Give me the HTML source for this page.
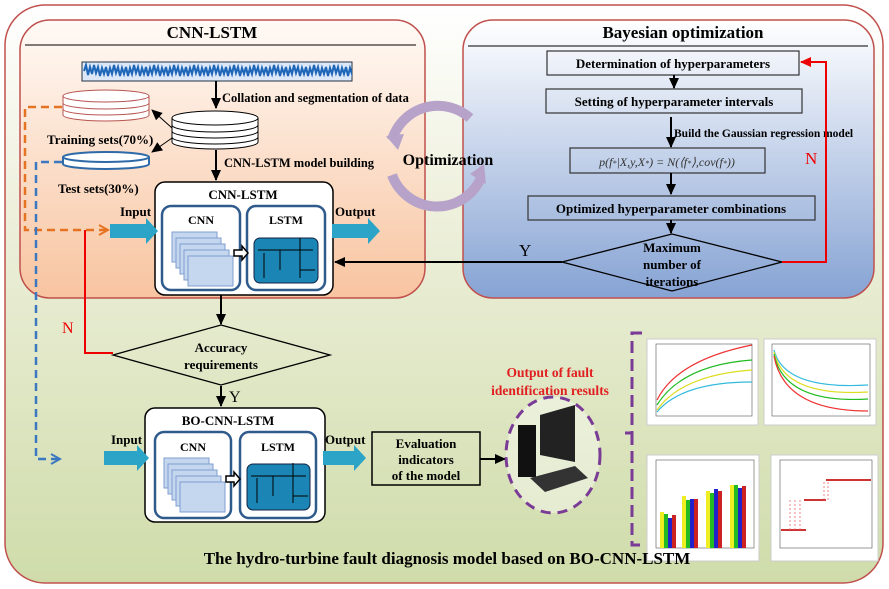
<!DOCTYPE html>
<html><head><meta charset="utf-8"><style>
html,body{margin:0;padding:0;background:#fff}
svg{display:block;font-family:"Liberation Serif",serif;font-weight:bold}
</style></head><body>
<svg width="889" height="589" viewBox="0 0 889 589">
<defs>
<clipPath id="sc"><rect x="82" y="62" width="270" height="19"/></clipPath>
<linearGradient id="go" x1="0" y1="0" x2="0" y2="1"><stop offset="0" stop-color="#fff"/><stop offset="0.35" stop-color="#eef0dc"/><stop offset="1" stop-color="#cfdcaa"/></linearGradient>
<linearGradient id="gl" x1="0" y1="0" x2="0" y2="1"><stop offset="0" stop-color="#fffaf6"/><stop offset="1" stop-color="#f8c4a0"/></linearGradient>
<linearGradient id="gr" x1="0" y1="0" x2="0" y2="1"><stop offset="0" stop-color="#ffffff"/><stop offset="1" stop-color="#86a3d4"/></linearGradient>
<marker id="ab" markerUnits="userSpaceOnUse" markerWidth="12" markerHeight="12" refX="10" refY="6" orient="auto"><path d="M0,1L11,6L0,11z" fill="#000"/></marker>
<marker id="ar" markerUnits="userSpaceOnUse" markerWidth="12" markerHeight="12" refX="10" refY="6" orient="auto"><path d="M0,1L11,6L0,11z" fill="#e00"/></marker>
<marker id="ao" markerUnits="userSpaceOnUse" markerWidth="12" markerHeight="12" refX="10" refY="6" orient="auto"><path d="M1,1L10,6L1,11" fill="none" stroke="#e67322" stroke-width="2"/></marker>
<marker id="abl" markerUnits="userSpaceOnUse" markerWidth="12" markerHeight="12" refX="10" refY="6" orient="auto"><path d="M1,1L10,6L1,11" fill="none" stroke="#3b78c0" stroke-width="2"/></marker>
</defs>
<rect x="5" y="5" width="878" height="578" rx="40" fill="url(#go)" stroke="#c0504d" stroke-width="1.5"/>
<rect x="20" y="20" width="405" height="278" rx="30" fill="url(#gl)" stroke="#c0504d" stroke-width="1.5"/>
<rect x="463" y="20" width="411" height="278" rx="30" fill="url(#gr)" stroke="#c0504d" stroke-width="1.5"/>
<text x="212" y="38" font-size="17" text-anchor="middle">CNN-LSTM</text>
<line x1="25" y1="45" x2="416" y2="45" stroke="#000"/>
<text x="683" y="38" font-size="17" text-anchor="middle">Bayesian optimization</text>
<line x1="468" y1="46" x2="868" y2="46" stroke="#000"/>
<rect x="82" y="62" width="270" height="19" fill="#dce8f7" stroke="#234"/>
<g clip-path="url(#sc)">
<path d="M84,71 l2,-6 2,10 2,-8 2,7 2,-9 2,8 2,-6 2,9 2,-8 2,6 2,-7 2,9 2,-8 2,6 2,-9 2,8 2,-6 2,9 2,-8 2,6 2,-7 2,9 2,-8 2,6 2,-9 2,8 2,-6 2,9 2,-8 2,6 2,-7 2,9 2,-8 2,6 2,-9 2,8 2,-6 2,9 2,-8 2,6 2,-7 2,9 2,-8 2,6 2,-9 2,8 2,-6 2,9 2,-8 2,6 2,-7 2,9 2,-8 2,6 2,-9 2,8 2,-6 2,9 2,-8 2,6 2,-7 2,9 2,-8 2,6 2,-9 2,8 2,-6 2,9 2,-8 2,6 2,-7 2,9 2,-8 2,6 2,-9 2,8 2,-6 2,9 2,-8 2,6 2,-7 2,9 2,-8 2,6 2,-9 2,8 2,-6 2,9 2,-8 2,6 2,-7 2,9 2,-8 2,6 2,-9 2,8 2,-6 2,9 2,-8 2,6 2,-7 2,9 2,-8 2,6 2,-9 2,8 2,-6 2,9 2,-8 2,6 2,-7 2,9 2,-8 2,6 2,-9 2,8 2,-6 2,9 2,-8 2,6 2,-7 2,9 2,-8 2,6 2,-9 2,8 2,-6 2,9 2,-8 2,6 2,-7 2,9 2,-8 2,6 2,-9 2,8 2,-6 2,9 2,-8 2,6 2,-7 2,9 2,-8 2,6 2,-9 2,8 2,-6 2,9 2,-8 2,6 2,-7 2,9" fill="none" stroke="#1e66b8" stroke-width="2"/>
</g>
<line x1="216" y1="81" x2="216" y2="108" stroke="#000" stroke-width="2" marker-end="url(#ab)"/>
<text x="222" y="102" font-size="12.5">Collation and segmentation of data</text>
<g fill="#fff" stroke="#000">
<path d="M172,118 v24 a43,7 0 0 0 86,0 v-24"/><ellipse cx="215" cy="118" rx="43" ry="7"/>
<path d="M172,125 a43,7 0 0 0 86,0 M172,131 a43,7 0 0 0 86,0 M172,137 a43,7 0 0 0 86,0" fill="none"/>
</g>
<g fill="#fff" stroke="#b85450">
<path d="M63,96 v19 a43,6 0 0 0 86,0 v-19"/><ellipse cx="106" cy="96" rx="43" ry="6"/>
<path d="M63,103 a43,6 0 0 0 86,0 M63,109 a43,6 0 0 0 86,0" fill="none"/>
</g>
<g fill="#fff" stroke="#2e6aa8" stroke-width="2">
<path d="M63,157 v7 a43,5 0 0 0 86,0 v-7"/><ellipse cx="106" cy="157" rx="43" ry="5"/>
</g>
<line x1="172" y1="128" x2="152" y2="110" stroke="#000" marker-end="url(#ab)"/>
<line x1="172" y1="138" x2="152" y2="152" stroke="#000" marker-end="url(#ab)"/>
<text x="47" y="144" font-size="13">Training sets(70%)</text>
<text x="58" y="193" font-size="13">Test sets(30%)</text>
<line x1="216" y1="150" x2="216" y2="180" stroke="#000" stroke-width="2" marker-end="url(#ab)"/>
<text x="224" y="167" font-size="12.5">CNN-LSTM model building</text>
<path d="M62,107 H25 V230 H108" fill="none" stroke="#e67322" stroke-width="2.5" stroke-dasharray="8,5" marker-end="url(#ao)"/>
<path d="M62,162 H36 V459 H60" fill="none" stroke="#3b78c0" stroke-width="2.5" stroke-dasharray="8,5" marker-end="url(#abl)"/>
<path d="M85,230 V353 H113" fill="none" stroke="#e00" stroke-width="2"/>
<text x="62" y="333" font-size="16" fill="#e00" font-weight="normal">N</text>
<path d="M470,118 A48,48 0 0 0 392,140" fill="none" stroke="#b7a3c9" stroke-width="10"/>
<path d="M386,136 l12,14 6,-16z" fill="#b7a3c9"/>
<path d="M392,175 A48,48 0 0 0 480,180" fill="none" stroke="#b7a3c9" stroke-width="10"/>
<path d="M486,184 l-2,-20 -14,10z" fill="#b7a3c9"/>
<text x="448" y="165" font-size="16" text-anchor="middle">Optimization</text>
<rect x="155" y="182" width="178" height="113" rx="10" fill="#fff" stroke="#000" stroke-width="1.5"/>
<text x="243" y="199" font-size="13" text-anchor="middle">CNN-LSTM</text>
<rect x="162" y="206" width="78" height="84" rx="9" fill="#fff" stroke="#2e5a8c" stroke-width="2.5"/>
<rect x="247" y="206" width="78" height="84" rx="9" fill="#fff" stroke="#2e5a8c" stroke-width="2.5"/>
<text x="201" y="224" font-size="12" text-anchor="middle">CNN</text>
<text x="286" y="224" font-size="12" text-anchor="middle">LSTM</text>
<g fill="#c5d6ef" stroke="#7f9fd0"><rect x="172" y="232" width="45" height="30"/><rect x="176" y="238" width="45" height="30"/><rect x="180" y="244" width="45" height="30"/><rect x="184" y="250" width="45" height="30"/><rect x="188" y="256" width="45" height="30"/></g>
<path d="M234,250 h8 v-4 l6,7 -6,7 v-4 h-8z" fill="#fff" stroke="#000" stroke-width="1.5"/>
<rect x="254" y="238" width="64" height="45" rx="6" fill="#1b86b5" stroke="#124"/>
<path d="M258,250 h55 M264,278 v-25 M280,270 v-20 M300,278 v-40 M300,270 h15" stroke="#000" fill="none"/>
<path d="M110,224 h36 v-6 l12,13 -12,13 v-6 h-36z" fill="#2ca4c8"/>
<path d="M332,224 h36 v-6 l12,13 -12,13 v-6 h-36z" fill="#2ca4c8"/>
<text x="120" y="216" font-size="13">Input</text>
<text x="335" y="216" font-size="13">Output</text>
<g fill="none" stroke="#333" stroke-width="1.2">
<rect x="547" y="51" width="252" height="24"/>
<rect x="546" y="89" width="256" height="24"/>
<rect x="570" y="148" width="195" height="25"/>
<rect x="528" y="196" width="287" height="24"/>
</g>
<g font-size="13" text-anchor="middle">
<text x="673" y="68">Determination of hyperparameters</text>
<text x="674" y="106">Setting of hyperparameter intervals</text>
<text x="671" y="213">Optimized hyperparameter combinations</text>
</g>
<text x="667" y="166" font-size="12" text-anchor="middle" font-weight="normal" font-style="italic" fill="#333">p(f<tspan font-size="8">*</tspan>|X,y,X<tspan font-size="8">*</tspan>) = N(⟨f<tspan font-size="8">*</tspan>⟩,cov(f<tspan font-size="8">*</tspan>))</text>
<line x1="674" y1="75" x2="674" y2="88" stroke="#000" stroke-width="2" marker-end="url(#ab)"/>
<line x1="671" y1="117" x2="671" y2="147" stroke="#000" stroke-width="2" marker-end="url(#ab)"/>
<text x="674" y="137" font-size="11.5">Build the Gaussian regression model</text>
<line x1="671" y1="173" x2="671" y2="194" stroke="#000" stroke-width="2" marker-end="url(#ab)"/>
<line x1="671" y1="220" x2="671" y2="233" stroke="#000" stroke-width="2" marker-end="url(#ab)"/>
<path d="M562,262 L672,234 L782,262 L672,291z" fill="none" stroke="#000" stroke-width="1.3"/>
<g font-size="13" text-anchor="middle"><text x="672" y="252">Maximum</text><text x="672" y="269">number of</text><text x="672" y="286">iterations</text></g>
<path d="M782,262 H826 V62 H801" fill="none" stroke="#e00" stroke-width="2" marker-end="url(#ar)"/>
<text x="805" y="164" font-size="17" fill="#e00" font-weight="normal">N</text>
<line x1="562" y1="262" x2="335" y2="262" stroke="#000" stroke-width="2" marker-end="url(#ab)"/>
<text x="519" y="256" font-size="17" font-weight="normal">Y</text>
<line x1="221" y1="295" x2="221" y2="324" stroke="#000" stroke-width="2" marker-end="url(#ab)"/>
<path d="M113,355 L221,325 L330,355 L221,385z" fill="none" stroke="#000" stroke-width="1.3"/>
<g font-size="13" text-anchor="middle"><text x="221" y="352">Accuracy</text><text x="221" y="369">requirements</text></g>
<line x1="221" y1="386" x2="221" y2="406" stroke="#000" stroke-width="2" marker-end="url(#ab)"/>
<text x="229" y="402" font-size="16" font-weight="normal">Y</text>
<rect x="145" y="408" width="180" height="114" rx="10" fill="#fff" stroke="#000" stroke-width="1.5"/>
<text x="228" y="425" font-size="13" text-anchor="middle">BO-CNN-LSTM</text>
<rect x="155" y="432" width="76" height="86" rx="9" fill="#fff" stroke="#2e5a8c" stroke-width="2.5"/>
<rect x="240" y="432" width="76" height="86" rx="9" fill="#fff" stroke="#2e5a8c" stroke-width="2.5"/>
<text x="193" y="451" font-size="12" text-anchor="middle">CNN</text>
<text x="278" y="451" font-size="12" text-anchor="middle">LSTM</text>
<g fill="#c5d6ef" stroke="#7f9fd0"><rect x="164" y="458" width="45" height="30"/><rect x="168" y="464" width="45" height="30"/><rect x="172" y="470" width="45" height="30"/><rect x="176" y="476" width="45" height="30"/><rect x="180" y="482" width="45" height="30"/></g>
<path d="M226,476 h8 v-4 l6,7 -6,7 v-4 h-8z" fill="#fff" stroke="#000" stroke-width="1.5"/>
<rect x="247" y="464" width="63" height="46" rx="6" fill="#1b86b5" stroke="#124"/>
<path d="M251,476 h55 M257,503 v-25 M273,496 v-20 M293,503 v-40 M293,496 h15" stroke="#000" fill="none"/>
<path d="M104,451 h33 v-6 l12,13 -12,13 v-6 h-33z" fill="#2ca4c8"/>
<path d="M323,451 h31 v-6 l12,13 -12,13 v-6 h-31z" fill="#2ca4c8"/>
<text x="111" y="444" font-size="13">Input</text>
<text x="325" y="444" font-size="13">Output</text>
<rect x="372" y="432" width="108" height="53" fill="none" stroke="#000" stroke-width="1.5"/>
<g font-size="13" text-anchor="middle"><text x="426" y="448">Evaluation</text><text x="426" y="464">indicators</text><text x="426" y="480">of the model</text></g>
<line x1="480" y1="459" x2="505" y2="459" stroke="#000" stroke-width="2" marker-end="url(#ab)"/>
<ellipse cx="553" cy="455" rx="47" ry="58" fill="#fff" fill-opacity="0.4" stroke="#7a3b96" stroke-width="3" stroke-dasharray="10,7"/>
<path d="M540,415 L575,405 L575,462 L540,455z" fill="#222"/>
<rect x="518" y="425" width="18" height="52" fill="#111"/>
<path d="M530,478 L575,466 L588,478 L545,492z" fill="#333"/>
<text x="550" y="377" font-size="13.5" fill="#e02020" text-anchor="middle">Output of fault</text>
<text x="550" y="395" font-size="13.5" fill="#e02020" text-anchor="middle">identification results</text>
<path d="M642,333 H632 V433 H625 M632,433 V545 H642" fill="none" stroke="#7a3b96" stroke-width="3" stroke-dasharray="12,6"/>
<g fill="#fff" stroke="#ccc">
<rect x="647" y="339" width="111" height="86"/><rect x="764" y="339" width="112" height="86"/>
<rect x="647" y="455" width="112" height="106"/><rect x="771" y="455" width="107" height="106"/>
</g>
<g fill="none" stroke-width="1.2">
<rect x="656" y="344" width="96" height="72" stroke="#555" stroke-width="0.6"/>
<path d="M657,400 q20,-40 95,-55" stroke="#e33"/><path d="M657,405 q25,-40 95,-45" stroke="#2b2"/><path d="M657,410 q25,-35 95,-40" stroke="#dd2"/><path d="M657,412 q25,-30 95,-30" stroke="#3bd"/>
<rect x="772" y="344" width="98" height="72" stroke="#555" stroke-width="0.6"/>
<path d="M774,350 q10,40 94,35" stroke="#3bd"/><path d="M774,352 q10,45 94,40" stroke="#dd2"/><path d="M774,354 q10,50 94,45" stroke="#2b2"/><path d="M774,356 q10,55 94,55" stroke="#e33"/>
<rect x="656" y="460" width="98" height="88" stroke="#555" stroke-width="0.6"/>
<rect x="780" y="460" width="92" height="88" stroke="#555" stroke-width="0.6"/>
<path d="M781,530 h25 M804,500 h22 M826,480 h45" stroke="#c33" stroke-width="2"/>
<path d="M790,530 v-30 M795,530 v-30 M800,530 v-30 M824,500 v-20 M828,500 v-20" stroke="#e66" stroke-dasharray="2,2" stroke-width="0.8"/>
</g>
<g>
<rect x="660" y="512" width="4" height="36" fill="#ee2"/><rect x="664" y="514" width="4" height="34" fill="#2b2"/><rect x="668" y="518" width="4" height="30" fill="#22c"/><rect x="672" y="515" width="4" height="33" fill="#c22"/>
<rect x="682" y="496" width="4" height="52" fill="#ee2"/><rect x="686" y="500" width="4" height="48" fill="#2b2"/><rect x="690" y="499" width="4" height="49" fill="#22c"/><rect x="694" y="499" width="4" height="49" fill="#c22"/>
<rect x="706" y="491" width="4" height="57" fill="#ee2"/><rect x="710" y="493" width="4" height="55" fill="#2b2"/><rect x="714" y="489" width="4" height="59" fill="#22c"/><rect x="718" y="491" width="4" height="57" fill="#c22"/>
<rect x="730" y="485" width="4" height="63" fill="#ee2"/><rect x="734" y="485" width="4" height="63" fill="#2b2"/><rect x="738" y="488" width="4" height="60" fill="#22c"/><rect x="742" y="486" width="4" height="62" fill="#c22"/>
</g>
<text x="447" y="564" font-size="17" text-anchor="middle">The hydro-turbine fault diagnosis model based on BO-CNN-LSTM</text>
</svg>
</body></html>
